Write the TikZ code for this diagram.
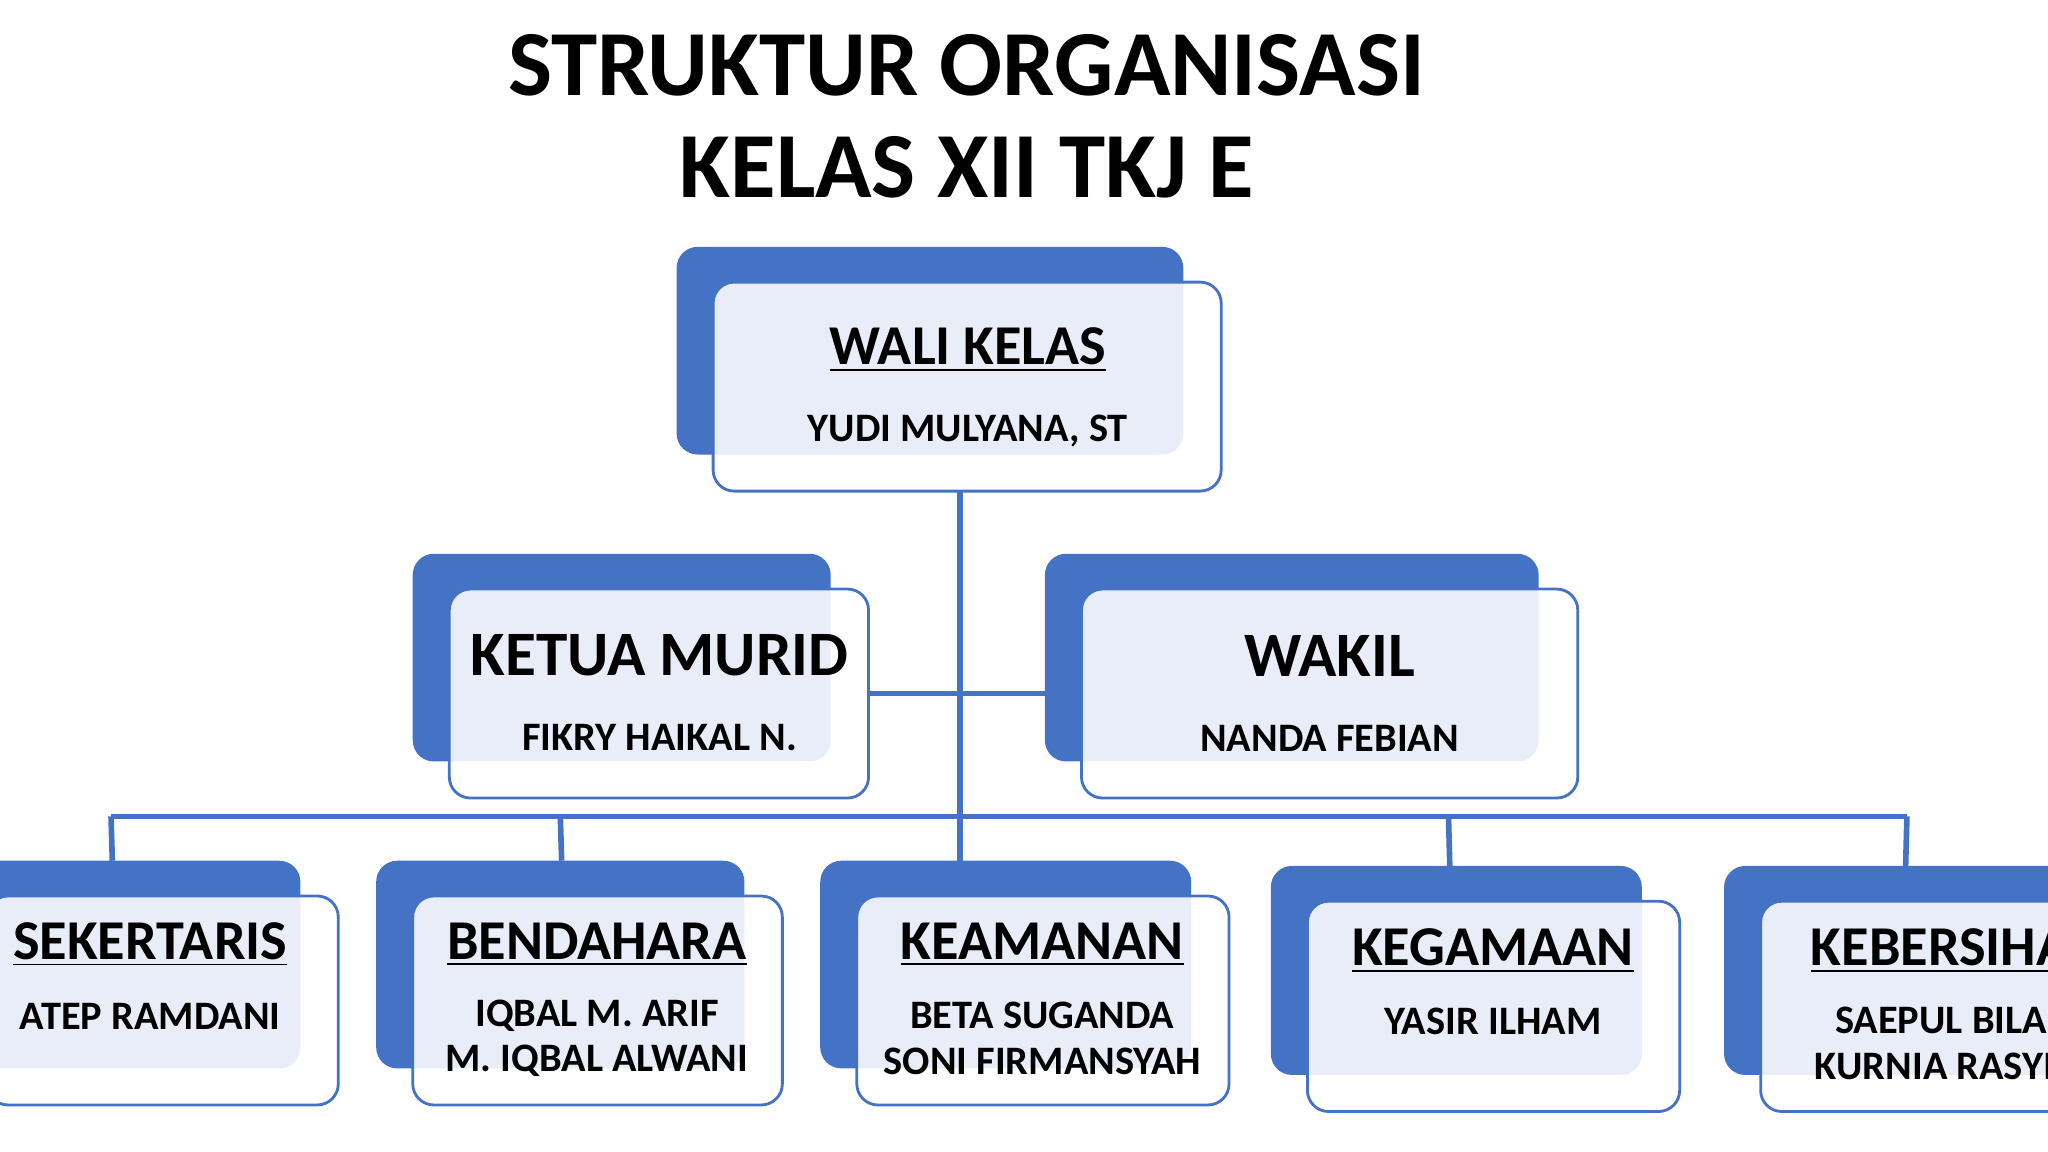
\documentclass[tikz,border=0pt]{standalone}
\usepackage{fontspec}
\setmainfont{Carlito}
\usetikzlibrary{fit}

\definecolor{orgblue}{HTML}{4472C4}

\begin{document}
\begin{tikzpicture}[x=0.01306cm, y=-0.01306cm,
    back/.style={fill=orgblue, draw=none, rounded corners=6pt, inner sep=0pt},
    front/.style={draw=orgblue, line width=0.8pt, fill=white, fill opacity=0.88, rounded corners=6pt, inner sep=0pt},
    head/.style={font=\bfseries\fontsize{16}{18}\selectfont},
    person/.style={font=\bfseries\fontsize{11.5}{13}\selectfont, align=center},
    link/.style={draw=orgblue, line width=1.6pt}]
    \useasboundingbox (0,0) rectangle (1568,882);
    \clip (0,0) rectangle (1568,882);

    \node[font=\bfseries\fontsize{26.5}{30}\selectfont] (title1) at (740,50) {STRUKTUR ORGANISASI};
    \node[font=\bfseries\fontsize{26.5}{30}\selectfont] (title2) at (740,128) {KELAS XII TKJ E};

    % connectors first, boxes on top
    \coordinate (top) at (735,376);
    \coordinate (mid) at (735,659);
    \coordinate (busl) at (85,625);
    \coordinate (busr) at (1460,625);
    \draw[link] (top) -- (mid);
    \draw[link] (busl) -- (busr);
    \draw[link] (665,531) -- (800,531);
    \draw[link] (busl) -- (86,659);
    \draw[link] (429,625) -- (430,659);
    \draw[link] (1109,625) -- (1110,663);
    \draw[link] (busr) -- (1459,663);

    \node[back, fit={(518,189) (906,348)}] (waliback) {};
    \node[front, fit={(546,216) (935,376)}] (wali) {};
    \node[head] at (741,268) {\underline{WALI KELAS}};
    \node[person] at (741,330) {YUDI MULYANA, ST};

    \node[back, fit={(316,424) (636,583)}] (ketuaback) {};
    \node[front, fit={(344,451) (665,611)}] (ketua) {};
    \node[font=\bfseries\fontsize{18}{20}\selectfont] at (505,502) {KETUA MURID};
    \node[person] at (505,565) {FIKRY HAIKAL N.};

    \node[back, fit={(800,424) (1178,583)}] (wakilback) {};
    \node[front, fit={(828,451) (1208,611)}] (wakil) {};
    \node[font=\bfseries\fontsize{18}{20}\selectfont] at (1018,502) {WAKIL};
    \node[person] at (1018,565) {NANDA FEBIAN};

    \node[back, fit={(-20,659) (230,818)}] (sekback) {};
    \node[front, fit={(-10,686) (259,846)}] (sek) {};
    \node[head] at (115,723) {\underline{SEKERTARIS}};
    \node[person] at (115,778) {ATEP RAMDANI};

    \node[back, fit={(288,659) (570,818)}] (bendback) {};
    \node[front, fit={(316,686) (599,846)}] (bend) {};
    \node[head] at (457,723) {\underline{BENDAHARA}};
    \node[person] at (457,795) {IQBAL M. ARIF\\M. IQBAL ALWANI};

    \node[back, fit={(628,659) (912,818)}] (keamback) {};
    \node[front, fit={(656,686) (941,846)}] (keam) {};
    \node[head] at (798,723) {\underline{KEAMANAN}};
    \node[person] at (798,795) {BETA SUGANDA\\SONI FIRMANSYAH};

    \node[back, fit={(973,663) (1257,823)}] (kegaback) {};
    \node[front, fit={(1001,690) (1286,851)}] (kega) {};
    \node[head] at (1143,728) {\underline{KEGAMAAN}};
    \node[person] at (1143,782) {YASIR ILHAM};

    \node[back, fit={(1320,663) (1610,823)}] (kebback) {};
    \node[front, fit={(1348,690) (1640,851)}] (keb) {};
    \node[head, anchor=west, inner sep=0pt] at (1386,728) {\underline{KEBERSIHAN}};
    \node[person, anchor=west, align=left, inner sep=0pt] at (1389,799) {\hspace*{0.5em}SAEPUL BILAL\\KURNIA RASYID};
\end{tikzpicture}
\end{document}
